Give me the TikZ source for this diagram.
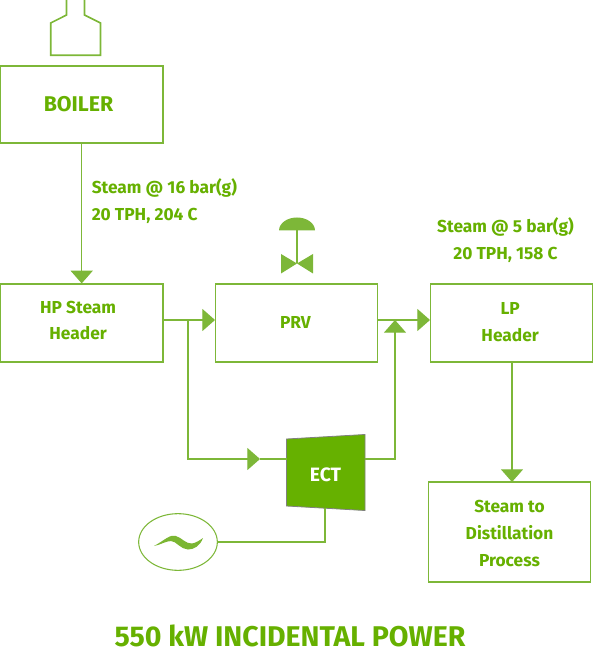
\documentclass[tikz,border=0pt]{standalone}
\usepackage{fontspec}
\setmainfont{Fira Sans}
\usetikzlibrary{arrows.meta,positioning,calc,shapes.geometric}
\definecolor{txtg}{RGB}{102,176,0}
\definecolor{lineg}{RGB}{125,183,56}
\definecolor{fillg}{RGB}{102,177,0}
\tikzset{
  block/.style={draw=lineg, line width=.9pt, minimum width=122pt, minimum height=#1, inner sep=0pt},
  lab/.style={align=center, inner sep=0pt, font=\fontsize{13}{20}\selectfont\bfseries, text=txtg},
  pipe/.style={draw=lineg, line width=.9pt},
  flow/.style={pipe, -{Triangle[length=9.5pt,width=16.5pt,color=lineg]}},
}
\begin{document}
\begin{tikzpicture}[x=0.75pt,y=-0.75pt]
  \useasboundingbox (0,0) rectangle (594,655);
  \node[block=57.75pt, label={[lab, font=\fontsize{16}{20}\selectfont\bfseries, xshift=-2.4pt]center:BOILER}] (boiler) at (81.7,104.5) {};
  \node[block=58.5pt, label={[lab, xshift=-2.7pt, yshift=1.9pt]center:{HP Steam\\Header}}] (hp) at (81.7,323) {};
  \node[block=58.5pt, label={[lab, xshift=-.8pt, yshift=.7pt]center:PRV}] (prv) at (296.5,323) {};
  \node[block=58.5pt, label={[lab, xshift=-1pt, yshift=.7pt]center:{LP\\Header}}] (lp) at (511.5,323) {};
  \node[block=75pt, label={[lab, yshift=-1pt]center:{Steam to\\Distillation\\Process}}] (dist) at (509.5,532) {};
  \node[lab, anchor=west, align=left] (hpsteam) at (91.5,201) {Steam @ 16 bar(g)\\20 TPH, 204 C};
  \node[lab] (lpsteam) at (505.5,240) {Steam @ 5 bar(g)\\20 TPH, 158 C};
  \node[lab, font=\fontsize{21.4}{26}\selectfont\bfseries] (title) at (290,635.5) {550 kW INCIDENTAL POWER};

  \draw[pipe, line width=1.2pt] (66.5,0) -- (66.5,15) -- (50.7,23) -- (50.7,55.3) -- (100.5,55.3) -- (100.5,23) -- (84.5,15) -- (84.5,0);

  \fill[lineg] (281,254) -- (297,263.5) -- (281,273.5) -- cycle;
  \fill[lineg] (313,254) -- (297,263.5) -- (313,273.5) -- cycle;
  \fill[lineg] (279,230.5) arc[start angle=180, end angle=360, x radius=18, y radius=13] -- cycle;
  \coordinate (dome) at (297,230);
  \coordinate (seat) at (297,263.5);
  \draw[pipe] (dome) -- (seat);

  \draw[draw=gray, fill=fillg, line width=.6pt] (286.5,439) -- (365,434.5) -- (365,510.5) -- (286.5,506) -- cycle;
  \node[inner sep=0pt, text=white, font=\fontsize{14.5}{16}\selectfont\bfseries] (ect) at (325.5,474.5) {ECT};
  \node[ellipse, draw=lineg, line width=.8pt, minimum width=59pt, minimum height=42.5pt, inner sep=0pt] (gen) at (178,542) {};
  \fill[lineg!90!fillg] (154,546) .. controls (165,540) and (170,534) .. (176,536) .. controls (182,538) and (186,544) .. (192,543.5) .. controls (196,543) and (200,540) .. (203,538) .. controls (200,546) and (194,549.5) .. (188,549.5) .. controls (181,549.5) and (176,541) .. (171,541) .. controls (166,541) and (160,545) .. (154,546) -- cycle;

  \coordinate (ectin) at (286.5,459);
  \coordinate (ectout) at (365,459);
  \coordinate (ectlow) at (325,508);
  \coordinate (jn) at (188,320);
  \coordinate (hpout) at (163,320);
  \coordinate (prvin) at (215,320);
  \coordinate (prvout) at (378,320);
  \coordinate (lpin) at (430,320);
  \coordinate (mid) at (260,459);
  \coordinate (tee) at (395,320);
  \coordinate (lpout) at (512,362);
  \coordinate (distin) at (512,482);

  \draw[flow] (boiler.south) -- (hp.north);
  \draw[flow] (hpout) -- (prvin);
  \draw[flow] (jn) |- (mid);
  \draw[pipe] (mid) -- (ectin);
  \draw[flow] (ectout) -| (tee);
  \draw[flow] (prvout) -- (lpin);
  \draw[flow] (lpout) -- (distin);
  \draw[pipe] (ectlow) |- (gen.east);
\end{tikzpicture}
\end{document}
